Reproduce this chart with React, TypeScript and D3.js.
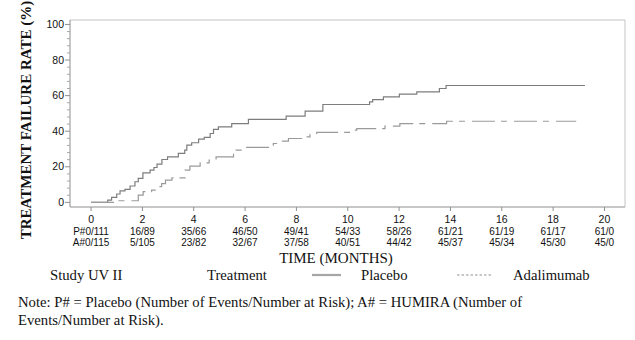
import React from "react";
import * as d3 from "d3";

const placeboMonths = [0, 0.65, 0.8, 1.0, 1.13, 1.32, 1.52, 1.71, 1.84, 2.02, 2.3, 2.45, 2.57, 2.76, 2.98, 3.4, 3.65, 3.73, 3.92, 4.19, 4.41, 4.64, 4.77, 4.96, 5.48, 6.13, 7.6, 8.34, 9.03, 10.85, 10.97, 11.39, 12.01, 12.69, 13.57, 13.83, 19.24];
const placeboRate = [0, 1.3, 2.8, 4.7, 6.5, 7.3, 9.2, 11.6, 13.5, 16.6, 18.1, 19.6, 21.5, 24.1, 25.6, 27.5, 29.4, 32.2, 33.5, 35.6, 36.5, 38.7, 41, 42.4, 44.3, 46.6, 48.5, 51.3, 55, 56.5, 57.8, 59.3, 60.8, 62.1, 64, 65.7, 65.7];

const adaMonths = [0, 1.0, 1.84, 2.03, 2.36, 2.56, 2.75, 2.9, 3.15, 3.66, 3.85, 4.25, 4.6, 4.87, 5.55, 5.65, 5.9, 6.03, 7.1, 7.36, 7.69, 8.34, 8.53, 8.79, 10.15, 10.35, 11.45, 12.03, 13.85, 18.9];
const adaRate = [0, 0.9, 4.1, 6, 6.9, 8.8, 10.5, 12.5, 13.8, 18.1, 20.4, 22.2, 23.7, 25.6, 28.4, 29.4, 30.3, 30.9, 33.1, 34.4, 35.9, 36.8, 38.2, 39.3, 40.6, 41.5, 42.8, 44.3, 45.6, 45.6];

const xTicks = [0, 2, 4, 6, 8, 10, 12, 14, 16, 18, 20];
const yTicks = [0, 20, 40, 60, 80, 100];
const yMinorTicks = d3.range(0, 101, 4).filter((v) => v % 20 !== 0);
const placeboRisk = ["P#0/111", "16/89", "35/66", "46/50", "49/41", "54/33", "58/26", "61/21", "61/19", "61/17", "61/0"];
const adaRisk = ["A#0/115", "5/105", "23/82", "32/67", "37/58", "40/51", "44/42", "45/37", "45/34", "45/30", "45/0"];

const yLabel = "TREATMENT FAILURE RATE (%)";
const xLabel = "TIME (MONTHS)";
const legendTitle = "Study UV II";
const legendHeader = "Treatment";
const seriesNames = ["Placebo", "Adalimumab"];
const noteLines = [
  "Note: P# = Placebo (Number of Events/Number at Risk); A# = HUMIRA (Number of",
  "Events/Number at Risk).",
];

const W = 635;
const H = 340;
const L = 70, R = 625, T = 20, B = 207;

export default function App() {
  const x = d3.scaleLinear().domain([-0.82, 20.8]).range([L, R]);
  const y = d3.scaleLinear().domain([-2.6, 102.5]).range([B, T]);

  const line = d3
    .line<[number, number]>()
    .x((d) => x(d[0]))
    .y((d) => y(d[1]))
    .curve(d3.curveStepAfter);

  const pData = placeboMonths.map((m, i) => [m, placeboRate[i]] as [number, number]);
  const aData = adaMonths.map((m, i) => [m, adaRate[i]] as [number, number]);

  const sans = "'Liberation Sans', Arial, sans-serif";
  const serif = "'Liberation Serif', 'Times New Roman', serif";

  return (
    <svg
      width={W}
      height={H}
      style={{ position: "absolute", left: 0, top: 0, background: "#fff" }}
    >
      <rect x={0} y={0} width={W} height={H} fill="#fff" />
      <line x1={L} y1={T} x2={R} y2={T} stroke="#c4c4c4" strokeWidth={1} />
      <line x1={R} y1={T} x2={R} y2={B} stroke="#c4c4c4" strokeWidth={1} />
      <line x1={L} y1={T} x2={L} y2={B} stroke="#8f8f8f" strokeWidth={1} />
      <line x1={L} y1={B} x2={R} y2={B} stroke="#8f8f8f" strokeWidth={1} />

      {yTicks.map((v) => (
        <g key={"y" + v}>
          <line x1={L - 5} x2={L} y1={y(v)} y2={y(v)} stroke="#8f8f8f" />
          <text
            x={L - 6}
            y={y(v)}
            dy="0.35em"
            textAnchor="end"
            fontFamily={sans}
            fontSize={10.5}
            fill="#111"
          >
            {v}
          </text>
        </g>
      ))}
      {yMinorTicks.map((v) => (
        <line key={"ym" + v} x1={L - 3} x2={L} y1={y(v)} y2={y(v)} stroke="#a8a8a8" />
      ))}

      {xTicks.map((v, i) => (
        <g key={"x" + v}>
          <line x1={x(v)} x2={x(v)} y1={B} y2={B + 4} stroke="#8f8f8f" />
          <text x={x(v)} y={223} textAnchor="middle" fontFamily={sans} fontSize={10.5} fill="#111">
            {v}
          </text>
          <text x={x(v)} y={234.5} textAnchor="middle" fontFamily={sans} fontSize={10} fill="#111">
            {placeboRisk[i]}
          </text>
          <text x={x(v)} y={246} textAnchor="middle" fontFamily={sans} fontSize={10} fill="#111">
            {adaRisk[i]}
          </text>
        </g>
      ))}

      <path d={line(pData) || ""} fill="none" stroke="#7d7d7d" strokeWidth={1.2} />
      <path
        d={line(aData) || ""}
        fill="none"
        stroke="#9a9a9a"
        strokeWidth={1.2}
        strokeDasharray="23 6 6 7"
      />

      <text
        transform={`translate(31,120) rotate(-90)`}
        textAnchor="middle"
        fontFamily={serif}
        fontWeight="bold"
        fontSize={15}
        fill="#111"
      >
        {yLabel}
      </text>
      <text x={336} y={263} textAnchor="middle" fontFamily={serif} fontSize={15} fill="#111">
        {xLabel}
      </text>

      <text x={50} y={280} fontFamily={serif} fontSize={14.7} fill="#111">{legendTitle}</text>
      <text x={207} y={280} fontFamily={serif} fontSize={14.7} fill="#111">{legendHeader}</text>
      <line x1={312} x2={341} y1={275} y2={275} stroke="#a6a6a6" strokeWidth={2.2} />
      <text x={361} y={280} fontFamily={serif} fontSize={14.7} fill="#111">{seriesNames[0]}</text>
      <line x1={457} x2={493} y1={275} y2={275} stroke="#c8c8c8" strokeWidth={2.2} strokeDasharray="2.5 2" />
      <text x={513} y={280} fontFamily={serif} fontSize={14.7} fill="#111">{seriesNames[1]}</text>

      {noteLines.map((t, i) => (
        <text key={i} x={18} y={307 + i * 18} fontFamily={serif} fontSize={14.7} fill="#111">
          {t}
        </text>
      ))}
    </svg>
  );
}
